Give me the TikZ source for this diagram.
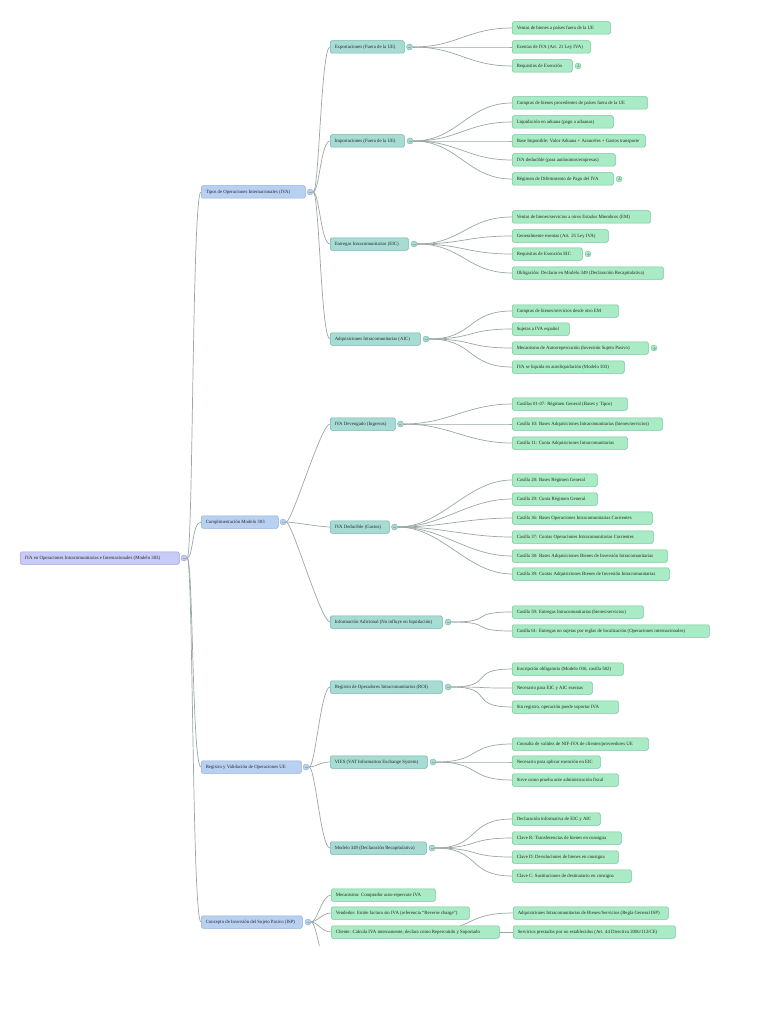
\documentclass[tikz,border=0pt]{standalone}
\usepackage{fontspec}
\setmainfont{Liberation Serif}
\usetikzlibrary{calc}
\pgfdeclarelayer{bg}
\pgfsetlayers{bg,main}
\definecolor{rootf}{HTML}{C7CBF6}
\definecolor{rootd}{HTML}{9BA2E0}
\definecolor{lonef}{HTML}{B9D1F1}
\definecolor{loned}{HTML}{8FB0DC}
\definecolor{ltwof}{HTML}{A6DCD3}
\definecolor{ltwod}{HTML}{6FB5A9}
\definecolor{leaff}{HTML}{A9EBC4}
\definecolor{leafd}{HTML}{72C79C}
\definecolor{edgec}{HTML}{9CA6A6}
\newcommand\bx[2]{\makebox[#1pt][l]{#2}}
% name, left, right, y, text
\newcommand\bnode[6]{\node[#1] (#2) at (#3,#5) {\bx{\the\numexpr #4-#3-9\relax}{#6}};}
\newcommand\btn[5]{\node[btnbase,fill=#2,draw=#3,#5] (#1) at #4 {};}
\newcommand\lk[2]{\draw[edgeline] (#1.east) .. controls +(45,0) and +(-45,0) .. (#2.west);}
\newcommand\vk[2]{\draw[edgeline] (#1.east) .. controls +(6,0) and +(-9,0) .. (#2.west);}
\begin{document}
\begin{tikzpicture}[x=1pt,y=-1pt,
  font=\fontsize{4.8}{5.5}\selectfont,
  boxbase/.style={rounded corners=1.5pt, line width=0.5pt, minimum height=12.5pt,
    inner xsep=4.5pt, inner ysep=0pt, anchor=west, text=black!85},
  rootbox/.style={boxbase, fill=rootf, draw=rootd},
  lonebox/.style={boxbase, fill=lonef, draw=loned},
  ltwobox/.style={boxbase, fill=ltwof, draw=ltwod},
  leafbox/.style={boxbase, fill=leaff, draw=leafd},
  btnbase/.style={circle, minimum size=6pt, inner sep=0pt, line width=0.4pt},
  minus/.style={path picture={\draw[black!35,line width=0.35pt]
     ([xshift=1.5pt]path picture bounding box.west) -- ([xshift=-1.5pt]path picture bounding box.east);}},
  plus/.style={path picture={\draw[black!35,line width=0.35pt]
     ([xshift=1.5pt]path picture bounding box.west) -- ([xshift=-1.5pt]path picture bounding box.east)
     ([yshift=-1.5pt]path picture bounding box.north) -- ([yshift=1.5pt]path picture bounding box.south);}},
  edgeline/.style={draw=edgec, line width=0.7pt}
]

% root
\bnode{rootbox}{root}{20}{179}{558}{IVA en Operaciones Intracomunitarias e Internacionales (Modelo 303)}
\btn{cR}{rootf}{rootd}{(184,558)}{minus}

% level 1
\bnode{lonebox}{t1}{201}{305}{192}{Tipos de Operaciones Internacionales (IVA)}
\btn{c1}{lonef}{loned}{(310,192)}{minus}
\bnode{lonebox}{t2}{201}{278}{522}{Cumplimentación Modelo 303}
\btn{c2}{lonef}{loned}{(283,522)}{minus}
\bnode{lonebox}{t3}{201}{301}{767}{Registro y Validación de Operaciones UE}
\btn{c3}{lonef}{loned}{(306,767)}{minus}
\bnode{lonebox}{t4}{201}{302}{922}{Concepto de Inversión del Sujeto Pasivo (ISP)}
\btn{c4}{lonef}{loned}{(308,922)}{minus}

% level 2 under t1
\bnode{ltwobox}{e1}{330}{404}{47}{Exportaciones (Fuera de la UE)}
\btn{ce1}{ltwof}{ltwod}{(409.5,47)}{minus}
\bnode{ltwobox}{e2}{330}{404}{141}{Importaciones (Fuera de la UE)}
\btn{ce2}{ltwof}{ltwod}{(410,141)}{minus}
\bnode{ltwobox}{e3}{330}{408}{244}{Entregas Intracomunitarias (EIC)}
\btn{ce3}{ltwof}{ltwod}{(414,244)}{minus}
\bnode{ltwobox}{e4}{330}{420}{339}{Adquisiciones Intracomunitarias (AIC)}
\btn{ce4}{ltwof}{ltwod}{(426,339)}{minus}

% level 2 under t2
\bnode{ltwobox}{f1}{330}{395}{424}{IVA Devengado (Ingresos)}
\btn{cf1}{ltwof}{ltwod}{(400.5,424)}{minus}
\bnode{ltwobox}{f2}{330}{389}{527}{IVA Deducible (Gastos)}
\btn{cf2}{ltwof}{ltwod}{(394.5,527)}{minus}
\bnode{ltwobox}{f3}{330}{442}{622}{Información Adicional (No influye en liquidación)}
\btn{cf3}{ltwof}{ltwod}{(448,622)}{minus}

% level 2 under t3
\bnode{ltwobox}{g1}{330}{442}{687}{Registro de Operadores Intracomunitarios (ROI)}
\btn{cg1}{ltwof}{ltwod}{(448,687)}{minus}
\bnode{ltwobox}{g2}{330}{427}{762}{VIES (VAT Information Exchange System)}
\btn{cg2}{ltwof}{ltwod}{(433,762)}{minus}
\bnode{ltwobox}{g3}{330}{426}{848}{Modelo 349 (Declaración Recapitulativa)}
\btn{cg3}{ltwof}{ltwod}{(432,848)}{minus}

% level 2 under t4 (leaves)
\bnode{leafbox}{h1}{331}{435}{895}{Mecanismo: Comprador auto-repercute IVA}
\bnode{leafbox}{h2}{331}{469}{913}{Vendedor: Emite factura sin IVA (referencia ``Reverse charge'')}
\bnode{leafbox}{h3}{331}{499}{932}{Cliente: Calcula IVA internamente, declara como Repercutido y Soportado}
\bnode{leafbox}{h31}{513}{668}{913}{Adquisiciones Intracomunitarias de Bienes/Servicios (Regla General ISP)}
\bnode{leafbox}{h32}{513}{675}{932}{Servicios prestados por no establecidos (Art. 44 Directiva 2006/112/CE)}
\coordinate (hstub) at (331,975);

% leaves e1
\bnode{leafbox}{e1a}{512}{610}{28}{Ventas de bienes a países fuera de la UE}
\bnode{leafbox}{e1b}{512}{590}{47}{Exentas de IVA (Art. 21 Ley IVA)}
\bnode{leafbox}{e1c}{512}{572}{66}{Requisitos de Exención}
\btn{ce1c}{leaff}{leafd}{(578,66)}{plus}
% leaves e2
\bnode{leafbox}{e2a}{512}{647}{103}{Compras de bienes procedentes de países fuera de la UE}
\bnode{leafbox}{e2b}{512}{613}{122}{Liquidación en aduana (pago a aduanas)}
\bnode{leafbox}{e2c}{512}{645}{141}{Base Imponible: Valor Aduana + Aranceles + Gastos transporte}
\bnode{leafbox}{e2d}{512}{615}{160}{IVA deducible (para autónomos/empresas)}
\bnode{leafbox}{e2e}{512}{613}{179}{Régimen de Diferimiento de Pago del IVA}
\btn{ce2e}{leaff}{leafd}{(619,179)}{plus}
% leaves e3
\bnode{leafbox}{e3a}{512}{650}{217}{Ventas de bienes/servicios a otros Estados Miembros (EM)}
\bnode{leafbox}{e3b}{512}{608}{236}{Generalmente exentas (Art. 25 Ley IVA)}
\bnode{leafbox}{e3c}{512}{582}{254}{Requisitos de Exención EIC}
\btn{ce3c}{leaff}{leafd}{(588,254)}{plus}
\bnode{leafbox}{e3d}{512}{663}{273}{Obligación: Declarar en Modelo 349 (Declaración Recapitulativa)}
% leaves e4
\bnode{leafbox}{e4a}{512}{618}{311}{Compras de bienes/servicios desde otro EM}
\bnode{leafbox}{e4b}{512}{569}{329}{Sujetas a IVA español}
\bnode{leafbox}{e4c}{512}{648}{348}{Mecanismo de Autorrepercusión (Inversión Sujeto Pasivo)}
\btn{ce4c}{leaff}{leafd}{(654,348)}{plus}
\bnode{leafbox}{e4d}{512}{624}{367}{IVA se liquida en autoliquidación (Modelo 303)}
% leaves f1
\bnode{leafbox}{f1a}{512}{627}{404}{Casillas 01-07: Régimen General (Bases y Tipos)}
\bnode{leafbox}{f1b}{512}{662}{424}{Casilla 10: Bases Adquisiciones Intracomunitarias (bienes/servicios)}
\bnode{leafbox}{f1c}{512}{627}{443}{Casilla 11: Cuota Adquisiciones Intracomunitarias}
% leaves f2
\bnode{leafbox}{f2a}{512}{597}{480}{Casilla 28: Bases Régimen General}
\bnode{leafbox}{f2b}{512}{597}{499}{Casilla 29: Cuota Régimen General}
\bnode{leafbox}{f2c}{512}{652}{518}{Casilla 36: Bases Operaciones Intracomunitarias Corrientes}
\bnode{leafbox}{f2d}{512}{653}{537}{Casilla 37: Cuotas Operaciones Intracomunitarias Corrientes}
\bnode{leafbox}{f2e}{512}{667}{556}{Casilla 38: Bases Adquisiciones Bienes de Inversión Intracomunitarias}
\bnode{leafbox}{f2f}{512}{669}{574}{Casilla 39: Cuotas Adquisiciones Bienes de Inversión Intracomunitarias}
% leaves f3
\bnode{leafbox}{f3a}{512}{643}{612}{Casilla 59: Entregas Intracomunitarias (bienes/servicios)}
\bnode{leafbox}{f3b}{512}{709}{631}{Casilla 61: Entregas no sujetas por reglas de localización (Operaciones internacionales)}
% leaves g1
\bnode{leafbox}{g1a}{512}{623}{669}{Inscripción obligatoria (Modelo 036, casilla 582)}
\bnode{leafbox}{g1b}{512}{592}{688}{Necesario para EIC y AIC exentas}
\bnode{leafbox}{g1c}{512}{618}{707}{Sin registro, operación puede soportar IVA}
% leaves g2
\bnode{leafbox}{g2a}{512}{648}{744}{Consulta de validez de NIF-IVA de clientes/proveedores UE}
\bnode{leafbox}{g2b}{512}{600}{762}{Necesario para aplicar exención en EIC}
\bnode{leafbox}{g2c}{512}{618}{780}{Sirve como prueba ante administración fiscal}
% leaves g3
\bnode{leafbox}{g3a}{512}{600}{819}{Declaración informativa de EIC y AIC}
\bnode{leafbox}{g3b}{512}{621}{838}{Clave R: Transferencias de bienes en consigna}
\bnode{leafbox}{g3c}{512}{618}{857}{Clave D: Devoluciones de bienes en consigna}
\bnode{leafbox}{g3d}{512}{631}{876}{Clave C: Sustituciones de destinatario en consigna}

\begin{pgfonlayer}{bg}
  \fill[white] (0,0) rectangle (768,1024);
  \foreach \t in {t1,t2,t3,t4} {\vk{cR}{\t}}
  \foreach \t in {e1,e2,e3,e4} {\vk{c1}{\t}}
  \foreach \t in {f1,f2,f3} {\vk{c2}{\t}}
  \foreach \t in {g1,g2,g3} {\vk{c3}{\t}}
  \foreach \t in {h1,h2,h3} {\vk{c4}{\t}}
  \begin{scope}
    \clip (0,0) rectangle (768,945);
    \draw[edgeline] (c4.east) .. controls +(6,0) and +(-9,0) .. (hstub);
  \end{scope}
  \foreach \t in {e1a,e1b,e1c} {\lk{ce1}{\t}}
  \foreach \t in {e2a,e2b,e2c,e2d,e2e} {\lk{ce2}{\t}}
  \foreach \t in {e3a,e3b,e3c,e3d} {\lk{ce3}{\t}}
  \foreach \t in {e4a,e4b,e4c,e4d} {\lk{ce4}{\t}}
  \foreach \t in {f1a,f1b,f1c} {\lk{cf1}{\t}}
  \foreach \t in {f2a,f2b,f2c,f2d,f2e,f2f} {\lk{cf2}{\t}}
  \foreach \t in {f3a,f3b} {\lk{cf3}{\t}}
  \foreach \t in {g1a,g1b,g1c} {\lk{cg1}{\t}}
  \foreach \t in {g2a,g2b,g2c} {\lk{cg2}{\t}}
  \foreach \t in {g3a,g3b,g3c,g3d} {\lk{cg3}{\t}}
  \foreach \t in {h31,h32} {\draw[edgeline] ($(h3.center)+(8,0)$) .. controls +(50,0) and +(-50,0) .. (\t.west);}
\end{pgfonlayer}
\end{tikzpicture}
\end{document}
